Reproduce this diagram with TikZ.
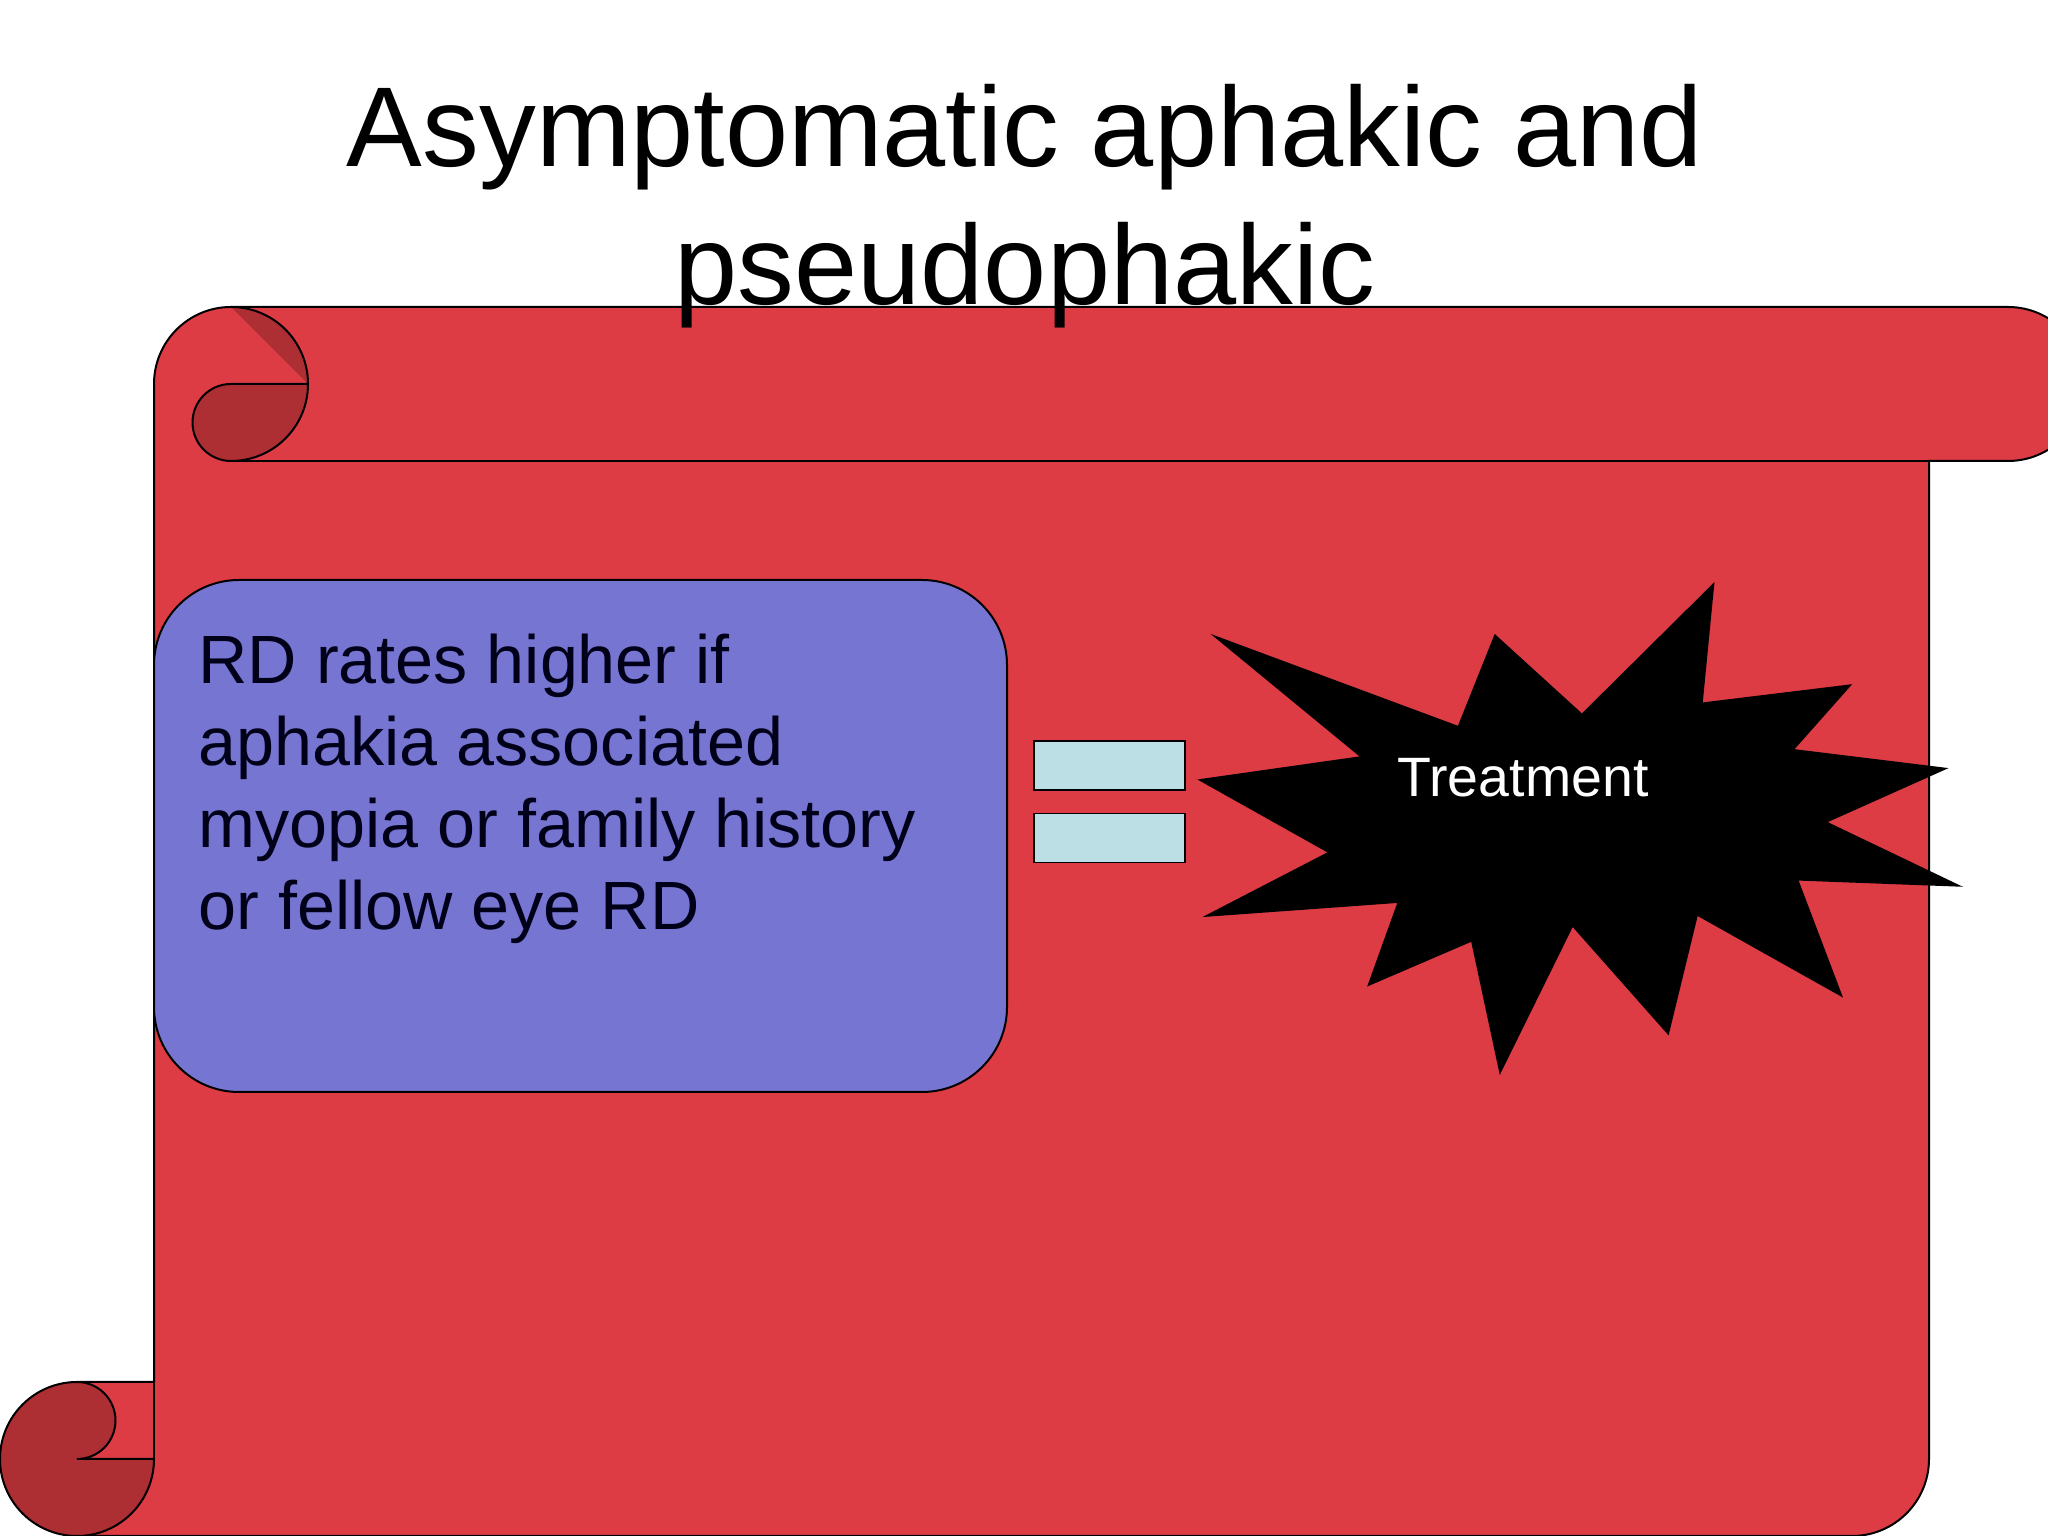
\documentclass[tikz,border=0pt]{standalone}
\usepackage{fontspec}
\setmainfont{Liberation Sans}
\usepackage{tikz}

\definecolor{scrollred}{HTML}{DE3C44}
\definecolor{curlred}{HTML}{AD2E33}
\definecolor{boxblue}{HTML}{7676D2}
\definecolor{barblue}{HTML}{BBDFE4}

\begin{document}
\begin{tikzpicture}[x=1pt,y=1pt,line width=2pt,
	scrollpart/.style={draw=black, fill=scrollred},
	curlpart/.style={draw=black, fill=curlred},
	bar/.style={draw=black, fill=barblue, minimum width=151pt, minimum height=49pt, inner sep=0pt, line width=1.6pt}]
\useasboundingbox (0,0) rectangle (2048,1536);
\clip (0,0) rectangle (2048,1536);
\fill[white] (0,0) rectangle (2048,1536);
% scroll
\draw[scrollpart] (154,1152) arc (180:90:77) -- (2008,1229) arc (90:-90:77) -- (1929,1075) -- (1929,77) arc (0:-90:77) -- (77,0) -- (77,154) -- (154,154) -- cycle;
\fill[curlred] (231,1229) arc (90:0:77) -- cycle;
\draw (231,1229) arc (90:0:77);
\draw[curlpart] (308,1152) -- (231,1152) arc (90:270:38.5) arc (-90:0:77);
\draw (231,1075) -- (1929,1075);
\draw[curlpart] (77,154) arc (90:270:77) arc (-90:0:77) -- (77,77) arc (-90:90:38.5) -- cycle;
\draw (154,77) -- (154,154);
% left box
\draw[draw=black, fill=boxblue] (154,444) [rounded corners=85pt] rectangle (1007,956);
\node [anchor=north west, align=left, inner sep=0pt, text=black!90!blue, font=\fontsize{68.3}{82}\selectfont] (desc) at (197.5,902.5) {RD rates higher if\\aphakia associated\\myopia or family history\\or fellow eye RD};
% equals sign
\node [bar] (upper) at (1109.5,770.5) {};
\node [bar] (lower) at (1109.5,698) {};
% burst
\begin{scope}[shift={(1180,976)},x=0.51pt,y=-0.344pt]
\fill[black] (60,215) -- (545,482) -- (617,215) -- (788,446) -- (1048,64) -- (1025,414) -- (1318,361) -- (1205,550) -- (1507,605) -- (1270,762) -- (1535,950) -- (1213,932) -- (1300,1272) -- (1015,1035) -- (958,1382) -- (770,1067) -- (627,1497) -- (571,1110) -- (367,1240) -- (426,997) -- (44,1038) -- (289,850) -- (34,638) -- (352,571) -- cycle;
\end{scope}
\node [anchor=base, text=white, inner sep=0pt, font=\fontsize{55.5}{66}\selectfont] (treat) at (1523,739) {Treatment};
% title
\node [align=center, inner sep=0pt, font=\fontsize{113.5}{138}\selectfont] (title) at (1025,1330) {Asymptomatic aphakic and\\pseudophakic};
\end{tikzpicture}
\end{document}
